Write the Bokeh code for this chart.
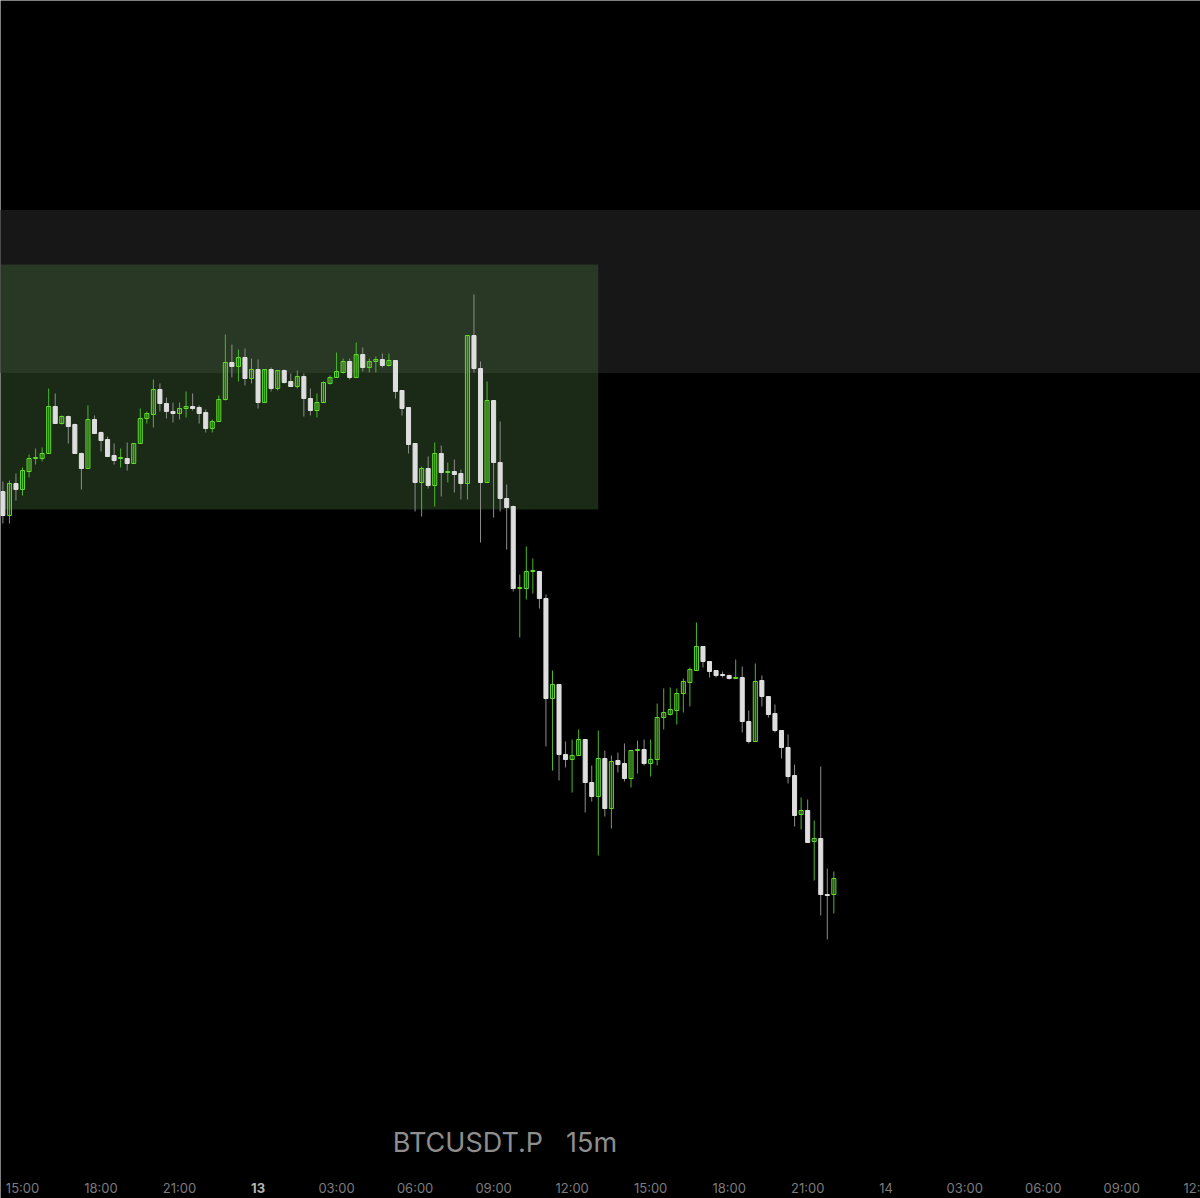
from bokeh.plotting import figure
from bokeh.models import Range1d, Label, ColumnDataSource
from bokeh.core.properties import value
from bokeh.embed import file_html
from bokeh.resources import INLINE

# ---------------- data (price in chart units, time in hours from day 12 00:00) ----------------
open_ = [509, 485, 517, 511, 529, 542, 542, 547, 594, 577,
         584, 576, 547, 532, 581, 568, 561, 545, 542, 542,
         537, 557, 582, 586, 611, 597, 589, 587, 592, 594,
         593, 588, 572, 579, 601, 638, 634, 643, 622, 631,
         598, 631, 612, 630, 619, 614, 624, 602, 590, 598,
         617, 623, 628, 639, 623, 646, 633, 639, 641, 635,
         640, 610, 593, 557, 518, 532, 515, 547, 528, 529,
         527, 517, 665, 632, 518, 600, 538, 502, 494, 412,
         412, 429, 429, 402, 302, 316, 246, 241, 245, 261,
         218, 204, 242, 192, 240, 237, 222, 250, 251, 237,
         241, 283, 286, 290, 307, 318, 330, 354, 339, 330,
         326, 325, 322, 323, 279, 259, 320, 304, 287, 270,
         253, 225, 186, 190, 159, 162, 106, 106]
high = [519, 520, 527, 533, 546, 552, 553, 612, 607, 585,
        585, 577, 548, 595, 585, 569, 564, 557, 552, 558,
        557, 592, 589, 621, 617, 603, 598, 598, 609, 607,
        595, 591, 581, 605, 666, 656, 651, 652, 642, 641,
        631, 633, 630, 631, 627, 630, 627, 612, 607, 619,
        625, 648, 642, 642, 658, 653, 642, 644, 647, 647,
        640, 610, 593, 557, 534, 544, 558, 555, 538, 541,
        531, 665, 706, 639, 619, 600, 579, 516, 495, 426,
        454, 442, 429, 406, 330, 316, 259, 261, 271, 261,
        235, 270, 250, 245, 248, 257, 250, 260, 261, 261,
        297, 312, 313, 312, 322, 333, 378, 354, 339, 330,
        329, 326, 341, 334, 290, 337, 325, 304, 296, 270,
        266, 236, 203, 201, 180, 234, 132, 129]
low = [477, 477, 500, 505, 523, 536, 539, 547, 577, 576,
       557, 547, 511, 532, 567, 549, 544, 536, 533, 530,
       537, 557, 577, 573, 589, 582, 578, 581, 583, 590,
       577, 568, 568, 579, 600, 623, 619, 615, 617, 592,
       598, 609, 610, 617, 614, 612, 584, 585, 583, 598,
       616, 623, 627, 621, 623, 629, 628, 628, 633, 634,
       602, 585, 547, 489, 484, 512, 494, 504, 518, 508,
       501, 501, 628, 458, 518, 483, 489, 451, 409, 363,
       401, 407, 392, 254, 230, 220, 233, 208, 245, 188,
       199, 145, 184, 172, 228, 219, 213, 227, 235, 224,
       235, 271, 285, 276, 288, 294, 330, 333, 323, 323,
       323, 321, 322, 268, 257, 259, 294, 283, 268, 242,
       217, 174, 171, 158, 120, 85, 61, 87]
close = [485, 517, 511, 530, 542, 543, 547, 594, 577, 584,
         574, 547, 532, 581, 567, 560, 544, 540, 543, 537,
         557, 582, 587, 611, 597, 589, 587, 592, 594, 592,
         587, 572, 579, 601, 638, 634, 643, 622, 631, 598,
         631, 612, 630, 618, 614, 624, 602, 590, 598, 618,
         623, 629, 639, 623, 646, 633, 639, 641, 635, 640,
         609, 592, 556, 518, 532, 515, 547, 528, 529, 526,
         517, 665, 632, 518, 600, 538, 502, 493, 412, 413,
         429, 430, 402, 302, 316, 246, 241, 245, 261, 218,
         204, 242, 192, 239, 236, 222, 250, 251, 237, 241,
         283, 288, 291, 307, 319, 331, 354, 339, 329, 325,
         325, 322, 323, 279, 259, 319, 304, 286, 270, 253,
         224, 185, 190, 158, 162, 106, 105, 122]

start_hour = 14.25          # 12th, 14:15
bar_step = 0.25             # 15 minute candles
times = [start_hour + bar_step * i for i in range(len(open_))]

# zones
supply_zone = dict(left=10.0, right=70.0, top=790.5, bottom=627.5)
demand_zone = dict(left=10.0, right=37.0, top=736.0, bottom=491.0)

tick_values = [15, 18, 21, 24, 27, 30, 33, 36, 39, 42, 45, 48, 51, 54, 57, 60]
tick_labels = ["15:00", "18:00", "21:00", "13", "03:00", "06:00", "09:00", "12:00",
               "15:00", "18:00", "21:00", "14", "03:00", "06:00", "09:00", "12:00"]
day_start_ticks = ["13"]          # shown bold

symbol_text = "BTCUSDT.P"
interval_text = "15m"

# ---------------- figure ----------------
W, H = 1200, 1198
p = figure(width=W, height=H, output_backend="svg", toolbar_location=None,
           x_range=Range1d(14.159, 60.01), y_range=Range1d(-198, 1000),
           min_border=0, x_axis_location=None, y_axis_location=None)
p.background_fill_color = "#000000"
p.border_fill_color = "#000000"
p.outline_line_color = None
p.xgrid.visible = False
p.ygrid.visible = False

p.quad(left=[supply_zone["left"]], right=[supply_zone["right"]],
       top=[supply_zone["top"]], bottom=[supply_zone["bottom"]],
       fill_color="#171717", line_color=None)
p.quad(left=[demand_zone["left"]], right=[demand_zone["right"]],
       top=[demand_zone["top"]], bottom=[demand_zone["bottom"]],
       fill_color="#46713b", fill_alpha=0.37, line_color=None)

up = [c >= o for o, c in zip(open_, close)]


def pick(seq, flag):
    return [v for v, u in zip(seq, up) if u == flag]


src_up = ColumnDataSource(dict(x=pick(times, True), o=pick(open_, True), c=pick(close, True),
                               h=pick(high, True), l=pick(low, True)))
src_dn = ColumnDataSource(dict(x=pick(times, False), o=pick(open_, False), c=pick(close, False),
                               h=pick(high, False), l=pick(low, False)))

p.segment(x0="x", x1="x", y0="h", y1="l", source=src_up, line_color="#4cb82a", line_width=1)
p.segment(x0="x", x1="x", y0="h", y1="l", source=src_dn, line_color="#8c8c8c", line_width=1)

bw = 0.155
p.vbar(x="x", width=bw, top="c", bottom="o", source=src_up,
       fill_color="#5fdc2a", fill_alpha=0.22, line_color="#5fdc2a", line_width=1)
p.vbar(x="x", width=bw, top="o", bottom="c", source=src_dn,
       fill_color="#dedede", line_color="#dedede", line_width=1)

# time scale labels along the bottom
label_y = -187
norm = [(t, s) for t, s in zip(tick_values, tick_labels) if s not in day_start_ticks]
bold = [(t, s) for t, s in zip(tick_values, tick_labels) if s in day_start_ticks]
p.text(x=[t for t, _ in norm], y=[label_y] * len(norm), text=[s for _, s in norm],
       text_align="center", text_baseline="middle", text_color="#7c7c7c",
       text_font=value("Inter"), text_font_size="13px")
p.text(x=[t for t, _ in bold], y=[label_y] * len(bold), text=[s for _, s in bold],
       text_align="center", text_baseline="middle", text_color="#b4b4b4",
       text_font=value("Inter"), text_font_size="13px", text_font_style="bold")

# symbol watermark
p.add_layout(Label(x=29.15, y=-141.5, text=symbol_text, text_align="left",
                   text_baseline="middle", text_color="#8e8e8e",
                   text_font="Inter", text_font_size="27px"))
p.add_layout(Label(x=35.77, y=-141.5, text=interval_text, text_align="left",
                   text_baseline="middle", text_color="#8e8e8e",
                   text_font="Inter", text_font_size="27px"))

open("out.html", "w").write(file_html(p, INLINE))
